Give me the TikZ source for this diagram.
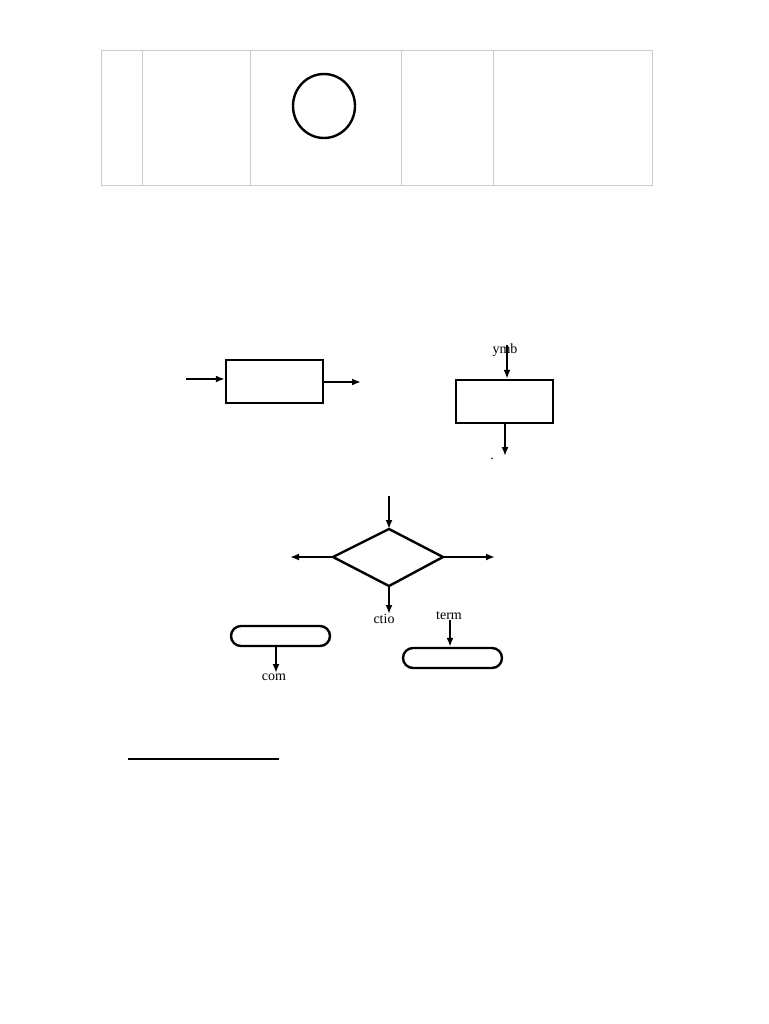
\documentclass[tikz,border=0pt]{standalone}
\usepackage{fontspec}
\setmainfont{Liberation Serif}
\usetikzlibrary{arrows.meta,shapes.misc}
\tikzset{
  cell/.style={draw=black!20, line width=1pt},
  block/.style={draw, line width=2.4pt, minimum width=97pt, minimum height=43pt, inner sep=0pt},
  terminal/.style={draw, rounded rectangle, line width=2.4pt, minimum width=99pt, minimum height=20pt, inner sep=0pt},
  flow/.style={-{Latex[length=9pt,width=7pt]}, line width=2.4pt},
  lbl/.style={font=\fontsize{14}{15}\selectfont, inner sep=0pt},
}
\begin{document}
\begin{tikzpicture}
  [
    x=1pt, y=-1pt,
  ]
    \useasboundingbox (0,0) rectangle (768,1024);

    % table
    \draw [cell] (101,51) rectangle (652,186);
    \foreach \x in {142,250,401,493} {
      \draw [cell] (\x,51) -- (\x,186);
    }
    \draw [black, line width=2.4pt] (324,106) ellipse (31 and 32);

    % process with arrows left/right
    \node [block] (procA) at (274.5,381.5) {};
    \coordinate (inA) at (186,379);
    \coordinate (outA) at (361,382);
    \draw [flow] (inA) -- (procA.west |- inA);
    \draw [flow] (procA.east |- outA) -- (outA);

    % process with arrows top/bottom
    \node [block] (procB) at (504.5,401.5) {};
    \node [lbl] (symb) at (505,350) {ymb};
    \coordinate (outB) at (505,456);
    \draw [flow] (507,345) -- (procB.north -| 507,0);
    \draw [flow] (procB.south -| outB) -- (outB);
    \node [lbl] (dotB) at (492,459) {.};

    % decision
    \coordinate (dtop) at (389,529);
    \coordinate (dleft) at (333,557);
    \coordinate (dright) at (443,557);
    \coordinate (dbot) at (389,586);
    \draw [line width=2.4pt, line join=round] (dtop) -- (dright) -- (dbot) -- (dleft) -- cycle;
    \coordinate (inD) at (389,496);
    \coordinate (outL) at (290,557);
    \coordinate (outR) at (495,557);
    \coordinate (outD) at (389,614);
    \draw [flow] (inD) -- (dtop);
    \draw [flow] (dleft) -- (outL);
    \draw [flow] (dright) -- (outR);
    \draw [flow] (dbot) -- (outD);
    \node [lbl] (action) at (384,619) {ctio};

    % terminals
    \node [terminal] (termA) at (280.5,636) {};
    \coordinate (outT) at (276,673);
    \draw [flow] (termA.south -| outT) -- (outT);
    \node [lbl] (become) at (274,677) {com};

    \node [terminal] (termB) at (452.5,658) {};
    \node [lbl] (term) at (449,616) {term};
    \draw [flow] (term.south -| 450,0) -- (termB.north -| 450,0);

    % rule
    \draw [black, line width=2.4pt] (128,759) -- (279,759);
  \end{tikzpicture}
\end{document}
